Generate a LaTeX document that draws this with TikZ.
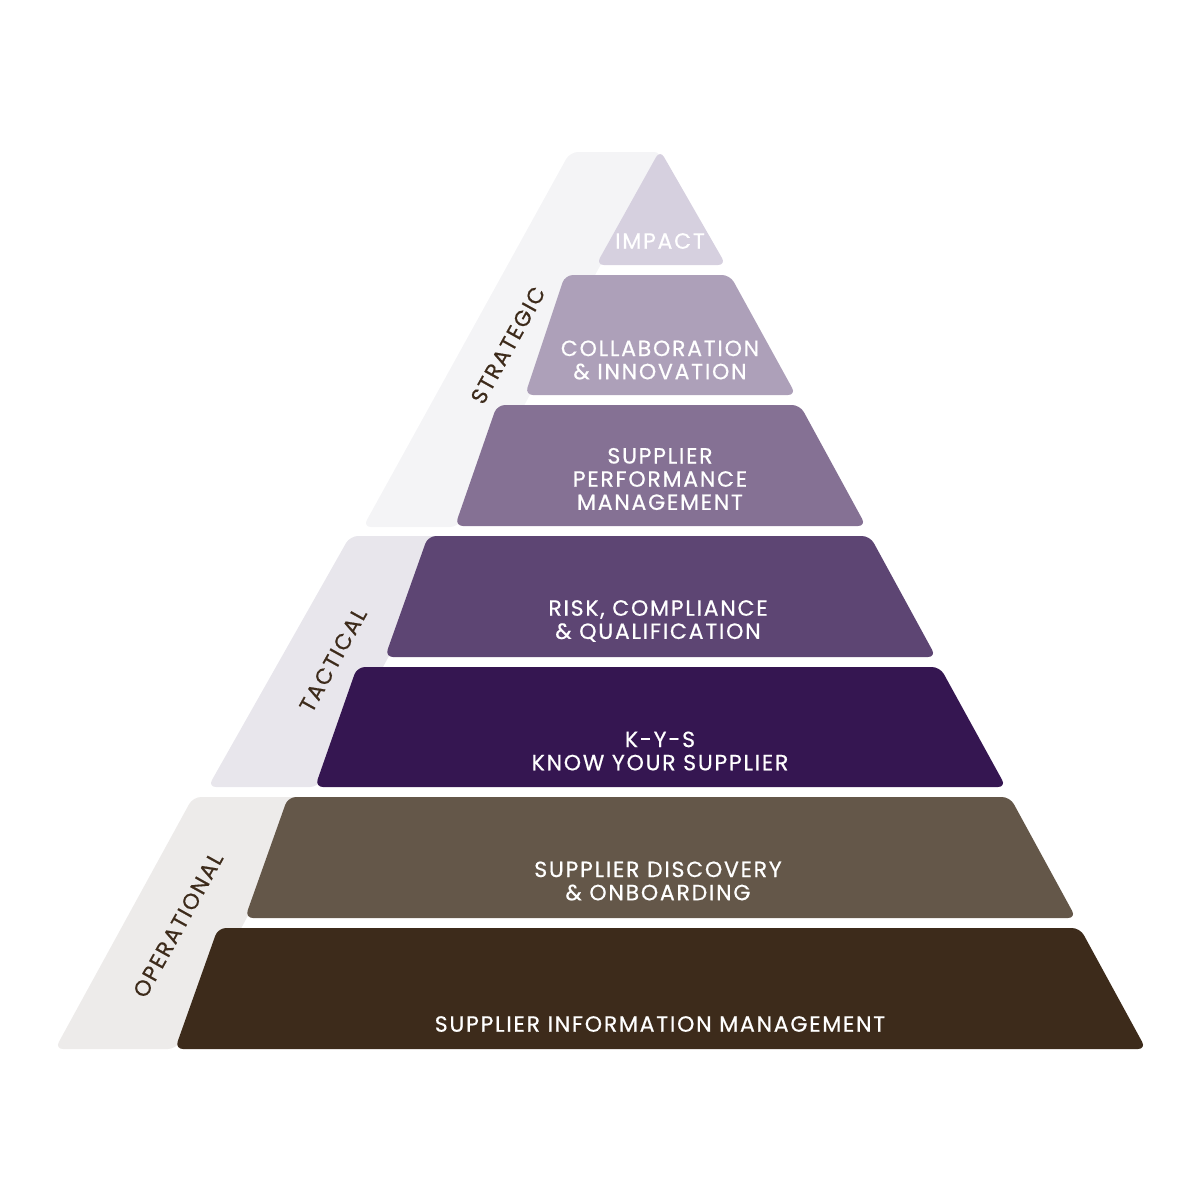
\documentclass[tikz,border=0pt]{standalone}
\usepackage{fontspec}
\setmainfont{Poppins}[LetterSpace=8,FakeBold=0.6]
\begin{document}
\begin{tikzpicture}[x=0.5pt,y=-0.5pt,
  lvl/.style={rounded corners=4pt},
  lt/.style={text=white,align=center,font=\fontsize{11}{11.6}\selectfont},
  bt/.style={text=labc,font=\fontsize{11}{12}\selectfont,rotate=61}]
\definecolor{c1}{HTML}{D6D0DF}\definecolor{c2}{HTML}{ADA0B9}
\definecolor{c3}{HTML}{857194}\definecolor{c4}{HTML}{5D4573}
\definecolor{c5}{HTML}{351651}\definecolor{c6}{HTML}{645749}
\definecolor{c7}{HTML}{3D2B1B}\definecolor{labc}{HTML}{3D2B1B}
\definecolor{b1}{HTML}{F4F4F6}\definecolor{b2}{HTML}{E8E6EC}\definecolor{b3}{HTML}{EDEBEA}
\useasboundingbox (0,0) rectangle (1200,1200);
% bands
\fill[b1,lvl] (570,152) -- (662,152) -- (458,527) -- (363,527) -- cycle;
\fill[b2,lvl] (350,536) -- (454,536) -- (318,787) -- (208,787) -- cycle;
\fill[b3,lvl] (193,797) -- (312,797) -- (176,1049) -- (55,1049) -- cycle;
% levels
\fill[c1,lvl] (660,150) -- (726,265) -- (596,265) -- cycle;
\fill[c2,lvl] (565,275) -- (730,275) -- (796,395) -- (525,395) -- cycle;
\fill[c3,lvl] (497,405) -- (800,405) -- (866,526) -- (455,526) -- cycle;
\fill[c4,lvl] (428,536) -- (870,536) -- (936,657) -- (385,657) -- cycle;
\fill[c5,lvl] (357,667) -- (940,667) -- (1006,787) -- (315,787) -- cycle;
\fill[c6,lvl] (288,797) -- (1010,797) -- (1076,918) -- (245,918) -- cycle;
\fill[c7,lvl] (218,928) -- (1080,928) -- (1146,1049) -- (175,1049) -- cycle;
% texts
\node[lt] (t1) at (660,241) {IMPACT};
\node[lt] (t2) at (660,360) {COLLABORATION\\\& INNOVATION};
\node[lt] (t3) at (660,479) {SUPPLIER\\PERFORMANCE\\MANAGEMENT};
\node[lt] (t4) at (658,621) {RISK, COMPLIANCE\\\& QUALIFICATION};
\node[lt] (t5) at (660,751) {K-Y-S\\KNOW YOUR SUPPLIER};
\node[lt] (t6) at (658,881) {SUPPLIER DISCOVERY\\\& ONBOARDING};
\node[lt] (t7) at (660,1024) {SUPPLIER INFORMATION MANAGEMENT};
\node[bt] (s1) at (508,345) {STRATEGIC};
\node[bt] (s2) at (333,660) {TACTICAL};
\node[bt] (s3) at (178,925) {OPERATIONAL};
\end{tikzpicture}
\end{document}
